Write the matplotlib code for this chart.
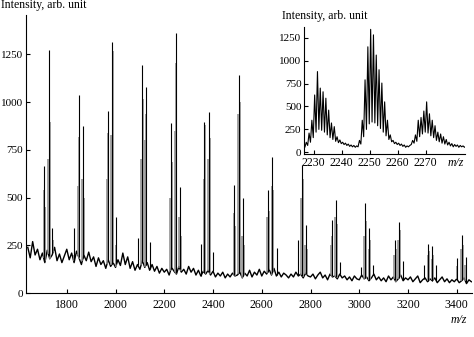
"""Mass spectrum with an inset zoom of the 2250 cluster"""
import numpy as np
import matplotlib
matplotlib.use("Agg")
import matplotlib.pyplot as plt

plt.rcParams['font.family'] = ['Liberation Serif', 'DejaVu Serif']
plt.rcParams['font.size'] = 8.5

# noisy background of the full spectrum, one value every 10 m/z from 1640
base_start = 1640
base_step = 10
base_int = [240, 185, 270, 200, 230, 175,
            210, 160, 225, 180, 200, 240, 170, 205, 160, 195,
            230, 175, 210, 160, 220, 185, 150, 200, 170, 215,
            165, 190, 140, 185, 150, 170, 130, 175, 140, 160,
            135, 175, 145, 210, 150, 190, 130, 165, 120, 150,
            125, 170, 135, 160, 120, 150, 115, 140, 105, 130,
            110, 125, 95, 135, 115, 100, 140, 110, 125, 100,
            140, 110, 130, 95, 120, 90, 115, 100, 120, 95,
            115, 85, 105, 90, 110, 80, 100, 85, 105, 90,
            95, 110, 80, 105, 90, 120, 85, 110, 95, 125,
            90, 115, 100, 125, 95, 130, 90, 110, 85, 105,
            95, 80, 100, 85, 110, 90, 100, 80, 105, 90,
            85, 100, 75, 95, 110, 80, 95, 70, 100, 85,
            90, 75, 100, 80, 90, 70, 85, 65, 90, 75,
            70, 95, 75, 85, 65, 80, 100, 70, 85, 65,
            80, 60, 90, 70, 85, 60, 75, 95, 65, 80,
            70, 85, 60, 75, 90, 55, 70, 80, 60, 75,
            65, 80, 55, 70, 85, 60, 75, 55, 70, 60,
            75, 55, 65, 80, 50, 70, 60]

# apex of each peak group
apex_mz = [1708, 1727, 1741,
           1831, 1849, 1867,
           1968, 1986, 2004,
           2091, 2108, 2124, 2142,
           2228, 2247, 2265,
           2350, 2365, 2384, 2400,
           2488, 2506, 2523,
           2625, 2643, 2662,
           2747, 2765, 2782,
           2887, 2905, 2921,
           3007, 3024, 3041, 3058,
           3147, 3163, 3178,
           3266, 3284, 3300, 3316,
           3403, 3421, 3438]
apex_int = [665, 1272, 340,
            340, 1035, 875,
            955, 1315, 400,
            290, 1195, 1080, 267,
            890, 1360, 556,
            260, 896, 948, 215,
            564, 1140, 496,
            538, 713, 234,
            276, 669, 355,
            381, 486, 162,
            135, 470, 340, 150,
            276, 372, 166,
            145, 260, 245, 150,
            182, 302, 189]

# neighbouring isotope lines inside each group
side_mz = [1705, 1711, 1724, 1730, 1744,
           1828, 1846, 1852, 1864, 1870,
           1965, 1971, 1983, 1989, 2001,
           2105, 2111, 2121, 2127,
           2225, 2231, 2244, 2250, 2262, 2268,
           2362, 2368, 2381, 2387,
           2485, 2491, 2503, 2509, 2520, 2526,
           2622, 2628, 2640, 2646,
           2762, 2768, 2779, 2785,
           2884, 2890, 2902, 2908,
           3021, 3027, 3038, 3044,
           3144, 3150, 3160, 3166,
           3281, 3287, 3297, 3303,
           3400, 3418, 3424, 3435]
side_int = [540, 450, 700, 895, 280,
            200, 560, 817, 600, 500,
            600, 840, 830, 1265, 250,
            700, 1015, 800, 936,
            500, 685, 850, 1204, 400, 300,
            600, 880, 700, 810,
            420, 350, 940, 1000, 300, 250,
            400, 430, 560, 540,
            500, 600, 250, 230,
            250, 300, 400, 360,
            300, 380, 230, 280,
            200, 230, 280, 330,
            200, 220, 180, 200,
            140, 230, 250, 150]

# inset trace, one value every 0.5 m/z from 2226.4
inset_start = 2226.4
inset_step = 0.5
inset_int = [70, 55, 110, 75, 210, 110, 350, 160, 625, 220,
             880, 250, 700, 240, 660, 220, 590, 190, 460, 160,
             320, 140, 280, 120, 170, 105, 135, 95, 110, 85,
             100, 75, 90, 65, 80, 60, 75, 55, 70, 60,
             130, 90, 350, 170, 790, 250, 1150, 310, 1340, 330,
             1280, 320, 1060, 290, 900, 260, 755, 220, 550, 180,
             350, 140, 190, 115, 130, 95, 110, 85, 100, 75,
             90, 65, 80, 55, 70, 60, 75, 85, 130, 100,
             190, 120, 350, 170, 380, 200, 450, 220, 550, 210,
             420, 180, 350, 160, 290, 130, 220, 115, 200, 100,
             170, 90, 140, 80, 110, 70, 95, 60, 85, 65,
             80, 55, 75, 60, 70, 55, 65]

main_xticks = [1800, 2000, 2200, 2400, 2600, 2800, 3000, 3200, 3400]
main_yticks = [0, 250, 500, 750, 1000, 1250]
inset_xticks = [2230, 2240, 2250, 2260, 2270]
inset_yticks = [0, 250, 500, 750, 1000, 1250]


def style_axes(ax):
    for side in ('top', 'right'):
        ax.spines[side].set_visible(False)
    for side in ('left', 'bottom'):
        ax.spines[side].set_linewidth(0.8)
    ax.tick_params(direction='in', length=3, width=0.8, labelsize=8.5)
    ax.tick_params(axis='y', labelsize=8, pad=2)


fig = plt.figure(figsize=(4.74, 3.37), dpi=100)

ax = fig.add_axes([0.055, 0.130, 0.941, 0.825])
base_mz = base_start + base_step * np.arange(len(base_int))
ax.plot(base_mz, base_int, color='black', lw=1.0)
side_floor = np.interp(side_mz, base_mz, base_int)
apex_floor = np.interp(apex_mz, base_mz, base_int)
ax.vlines(side_mz, side_floor, side_int, color='#8a8a8a', lw=1.1)
ax.vlines(apex_mz, apex_floor, apex_int, color='black', lw=0.8)
ax.set_xlim(1633, 3463)
ax.set_ylim(0, 1455)
ax.set_xticks(main_xticks)
ax.set_yticks(main_yticks)
style_axes(ax)
ax.tick_params(axis='x', pad=4)
fig.text(0.002, 0.985, 'Intensity, arb. unit', ha='left', va='center',
         fontsize=8.5)
fig.text(0.968, 0.050, 'm/z', ha='center', va='center', fontsize=8.5,
         style='italic')

# inset
ins = fig.add_axes([0.642, 0.542, 0.339, 0.379])
inset_mz = inset_start + inset_step * np.arange(len(inset_int))
ins.plot(inset_mz, inset_int, color='black', lw=0.8)
ins.set_xlim(2226.7, 2284.1)
ins.set_ylim(-22, 1370)
ins.set_xticks(inset_xticks)
ins.set_yticks(inset_yticks)
style_axes(ins)
ins.tick_params(axis='x', pad=2)
fig.text(0.594, 0.952, 'Intensity, arb. unit', ha='left', va='center',
         fontsize=8.5)
fig.text(0.962, 0.515, 'm/z', ha='center', va='center', fontsize=8.5,
         style='italic')

fig.savefig('out.png', dpi=100)
